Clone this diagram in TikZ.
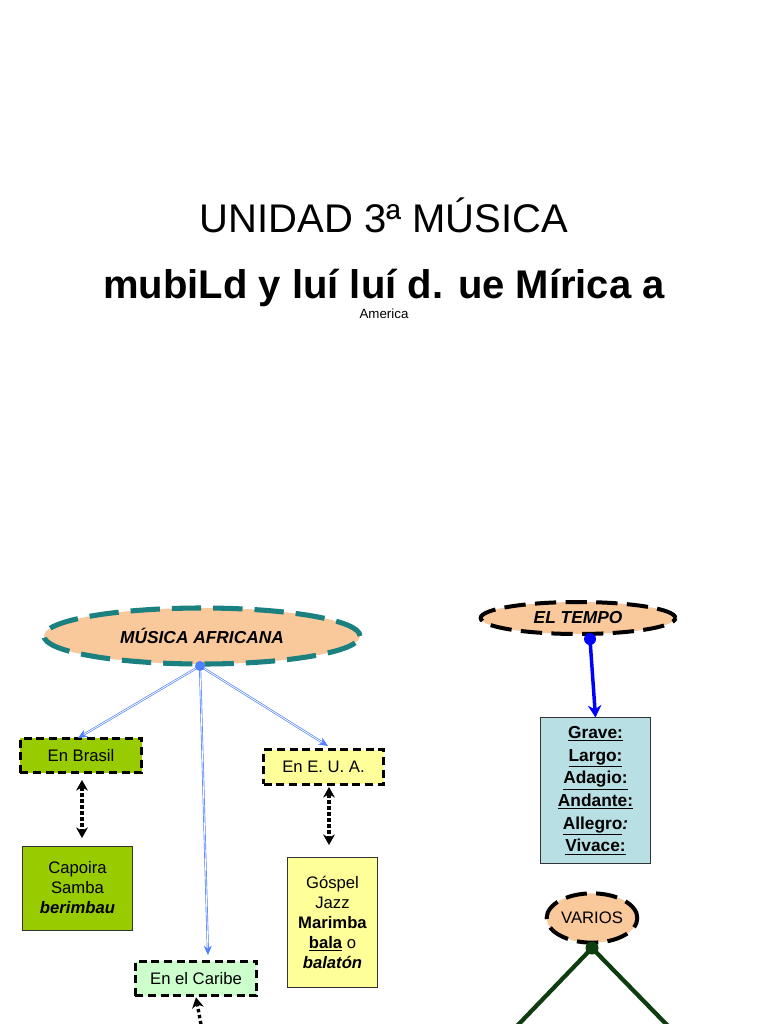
\documentclass[tikz,border=0pt]{standalone}
\usepackage{fontspec}
\setmainfont{Liberation Sans}
\usetikzlibrary{shapes.geometric,arrows.meta}
\definecolor{peach}{HTML}{F9C89B}
\definecolor{teal2}{HTML}{1A8080}
\definecolor{bgreen}{HTML}{99CC00}
\definecolor{lyel}{HTML}{FFFF99}
\definecolor{lgreen}{HTML}{CCFFCC}
\definecolor{lblue}{HTML}{B8DFE4}
\definecolor{abl}{HTML}{4D7FFF}
\definecolor{dgreen}{HTML}{0F3D0F}
\tikzset{
 dbox/.style={draw=black,line width=2.2pt,dash pattern=on 6pt off 3.5pt,minimum height=26pt,inner sep=0pt,font=\fontsize{12.5}{14}\selectfont},
 pbox/.style={draw=black!80,line width=0.6pt,inner sep=0pt,align=center,font=\fontsize{12.5}{15}\selectfont},
 bluearr/.style={draw=abl,double=white,double distance=0.6pt,line width=0.5pt,-{Stealth[length=7pt,width=6pt,fill=abl]}},
 dotarr/.style={line width=2.5pt,dotted,{Stealth[length=8pt,width=9pt,line width=0pt]}-{Stealth[length=8pt,width=9pt,line width=0pt]}},
}
\begin{document}
\begin{tikzpicture}[x=0.75pt,y=-0.75pt]
\useasboundingbox (0,0) rectangle (768,1024);
\node at (384,215) {\fontsize{30}{34}\selectfont UNIDAD 3ª MÚSICA};
\node[align=center] at (384,294) {\fontsize{30}{36}\selectfont\bfseries mubiLd y luí luí d. ue Mírica a\\America};
% Musica africana
\node[ellipse,fill=peach,draw=teal2,line width=3.8pt,dash pattern=on 22pt off 9pt,minimum width=237pt,minimum height=42pt,inner sep=0pt,font=\fontsize{13}{15}\selectfont\bfseries\itshape] (ma) at (202,636) {MÚSICA AFRICANA};
\node[dbox,fill=bgreen,minimum width=91pt] (br) at (81,755.5) {En Brasil};
\node[dbox,fill=lyel,minimum width=90pt] (eua) at (323.5,767) {En E. U. A.};
\node[dbox,fill=lgreen,minimum width=91pt] (car) at (196,978.5) {En el Caribe};
\coordinate (d) at (200,666);
\draw[bluearr] (d) -- (78,738);
\draw[bluearr] (d) -- (328,746);
\draw[bluearr] (d) -- (208,955);
\fill[abl] (d) circle (5);
\node[pbox,fill=bgreen,minimum width=83pt,minimum height=63pt] (cap) at (77.5,888) {Capoira\\Samba\\\textbf{\textit{berimbau}}};
\node[pbox,fill=lyel,minimum width=68pt,minimum height=97pt] (gos) at (332.5,922.5) {Góspel\\Jazz\\\textbf{Marimba}\\\textbf{\underline{bala}} o\\\textbf{\textit{balatón}}};
\draw[dotarr] (82,780) -- (82,838);
\draw[dotarr] (329,787) -- (329,845);
\coordinate (cb) at (202,1030);
\draw[line width=2.5pt,dotted,-{Stealth[length=8pt,width=9pt,line width=0pt]}] (cb) -- (car.south);
% tempo
\node[ellipse,fill=peach,draw=black,line width=3pt,dash pattern=on 16pt off 7pt,minimum width=146pt,minimum height=24pt,inner sep=0pt,font=\fontsize{13}{15}\selectfont\bfseries\itshape] (et) at (578,618) {EL TEMPO};
\node[pbox,fill=lblue,minimum width=82pt,minimum height=109pt,font=\fontsize{13}{17}\selectfont\bfseries] (tb) at (595.5,790.5) {\underline{Grave:}\\\underline{Largo:}\\\underline{Adagio:}\\\underline{Andante:}\\\underline{Allegro}\textit{:}\\\underline{Vivace:}};
\coordinate (td) at (590,639);
\draw[blue,line width=2.6pt,-{Stealth[length=9pt,width=10pt]}] (td) -- (tb.north);
\fill[blue] (td) circle (6);
% varios
\node[ellipse,fill=peach,draw=black,line width=3pt,dash pattern=on 16pt off 7pt,minimum width=68pt,minimum height=37pt,inner sep=0pt,font=\fontsize{12.5}{15}\selectfont] (va) at (592,918) {VARIOS};
\coordinate (vd) at (592,948);
\coordinate (l1) at (517,1026);
\coordinate (l2) at (668,1026);
\draw[dgreen,line width=3.2pt] (vd) -- (l1) (vd) -- (l2);
\fill[dgreen] (vd) circle (6.5);
\end{tikzpicture}
\end{document}
